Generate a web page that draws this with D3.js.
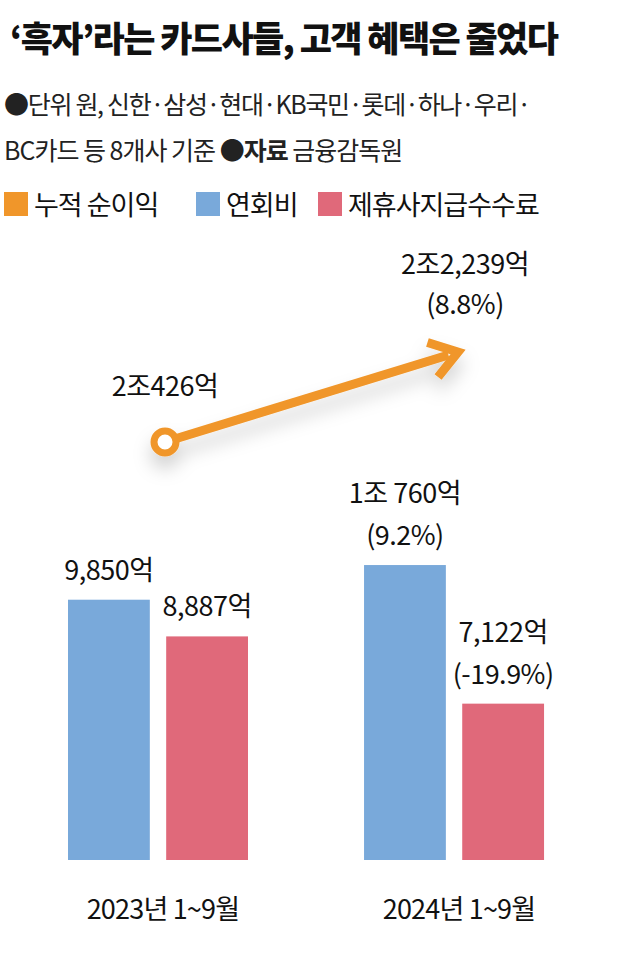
<!DOCTYPE html>
<html><head><meta charset="utf-8">
<script src="https://cdn.jsdelivr.net/npm/d3@7"></script>
<style>body{margin:0;background:#fff}text{font-family:"Noto Sans CJK KR","Noto Sans",sans-serif}</style>
</head><body><svg id="c" width="640" height="970"></svg>
<script>
const periods=["2023년 1~9월","2024년 1~9월"];
const profit=[20426,22239];
const profitLabels=[["2조426억"],["2조2,239억","(8.8%)"]];
const fee=[9850,10760];
const feeLabels=[["9,850억"],["1조 760억","(9.2%)"]];
const partner=[8887,7122];
const partnerLabels=[["8,887억"],["7,122억","(-19.9%)"]];
const legend=[["누적 순이익","#f0962a"],["연회비","#79a9da"],["제휴사지급수수료","#e0697a"]];

const svg=d3.select("#c");
const defs=svg.append("defs");
const f=defs.append("filter").attr("id","sh").attr("x","-20%").attr("y","-50%").attr("width","140%").attr("height","200%");
f.append("feDropShadow").attr("dx",0).attr("dy",12).attr("stdDeviation",9).attr("flood-color","#000").attr("flood-opacity",0.18);

svg.append("text").attr("x",10).attr("y",52).attr("font-size",35).attr("font-weight",900).attr("fill","#111").attr("letter-spacing",-1.6).text("‘흑자’라는 카드사들, 고객 혜택은 줄었다");
svg.append("text").attr("x",4).attr("y",114).attr("font-size",25).attr("fill","#222").attr("letter-spacing",-1.3).text("●단위 원, 신한·삼성·현대·KB국민·롯데·하나·우리·");
const s2=svg.append("text").attr("x",4).attr("y",160).attr("font-size",25).attr("fill","#222").attr("letter-spacing",-1);
s2.append("tspan").text("BC카드 등 8개사 기준 ");
s2.append("tspan").attr("font-weight",700).text(" ●자료");
s2.append("tspan").text(" 금융감독원");

const lx=[4,196,318];
legend.forEach((d,i)=>{
 svg.append("rect").attr("x",lx[i]).attr("y",192).attr("width",24).attr("height",24).attr("fill",d[1]);
 svg.append("text").attr("x",lx[i]+30).attr("y",215).attr("font-size",27).attr("fill","#111").attr("letter-spacing",-1).text(d[0]);
});

const x=d3.scaleBand().domain(periods).range([58,574]).paddingInner(0.257).paddingOuter(0);
const sub=d3.scaleBand().domain([0,1]).range([10,190]).paddingInner(0.1667).paddingOuter(0);
const y=d3.scaleLinear().domain([0,10000]).range([975,594]);
const base=860;
const series=[[fee,"#79a9da",feeLabels],[partner,"#e0697a",partnerLabels]];
series.forEach((s,si)=>{
 periods.forEach((p,pi)=>{
  const bx=x(p)+sub(si), w=sub.bandwidth(), top=y(s[0][pi]);
  svg.append("rect").attr("x",bx).attr("y",top).attr("width",w).attr("height",base-top).attr("fill",s[1]);
  const lines=s[2][pi];
  lines.forEach((t,li)=>{
   svg.append("text").attr("x",bx+w/2).attr("y",top-20-(lines.length-1-li)*42).attr("text-anchor","middle").attr("font-size",27).attr("fill","#111").attr("letter-spacing",-0.5).text(t);
  });
 });
});
periods.forEach(p=>{
 svg.append("text").attr("x",x(p)+x.bandwidth()/2-5).attr("y",919).attr("text-anchor","middle").attr("font-size",27).attr("fill","#111").attr("letter-spacing",-0.8).text(p);
});

const yp=d3.scaleLinear().domain([20426,22239]).range([442,352]);
const px=[165,458];
const g=svg.append("g").attr("filter","url(#sh)");
const x0=px[0],y0=yp(profit[0]),x1=px[1],y1=yp(profit[1]);
const ang=Math.atan2(y1-y0,x1-x0);
const ex=x1-10*Math.cos(ang), ey=y1-10*Math.sin(ang);
g.append("line").attr("x1",x0).attr("y1",y0).attr("x2",ex).attr("y2",ey).attr("stroke","#f0962a").attr("stroke-width",9);
const L=32,a=0.6;
g.append("path").attr("d",`M${x1-L*Math.cos(ang-a)},${y1-L*Math.sin(ang-a)} L${x1},${y1} L${x1-L*Math.cos(ang+a)},${y1-L*Math.sin(ang+a)}`).attr("fill","none").attr("stroke","#f0962a").attr("stroke-width",9).attr("stroke-linejoin","miter");
g.append("circle").attr("cx",x0).attr("cy",y0).attr("r",11).attr("fill","#fff").attr("stroke","#f0962a").attr("stroke-width",7);
svg.append("text").attr("x",x0).attr("y",y0-46).attr("text-anchor","middle").attr("font-size",27).attr("fill","#111").attr("letter-spacing",-0.5).text(profitLabels[0][0]);
profitLabels[1].forEach((t,i)=>svg.append("text").attr("x",465).attr("y",274+i*40).attr("text-anchor","middle").attr("font-size",27).attr("fill","#111").attr("letter-spacing",-0.5).text(t));
</script></body></html>
